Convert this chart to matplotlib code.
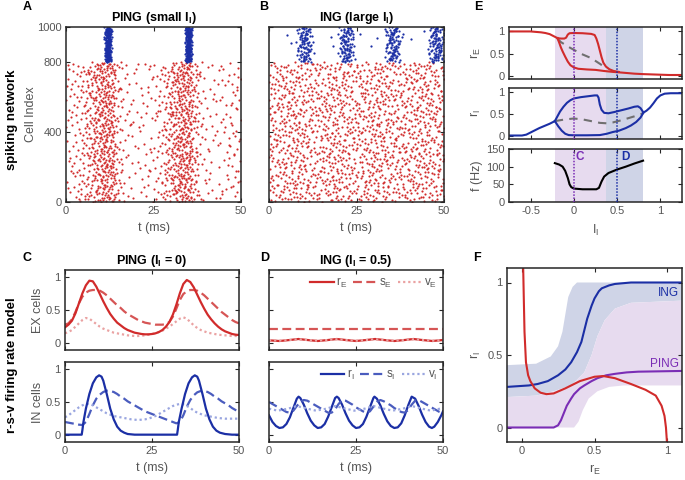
import numpy as np
import matplotlib
matplotlib.use('Agg')
import matplotlib.pyplot as plt

plt.rcParams['font.family'] = ['Liberation Sans', 'DejaVu Sans']
plt.rcParams['mathtext.fontset'] = 'custom'
plt.rcParams['mathtext.rm'] = 'Liberation Sans'
plt.rcParams['mathtext.it'] = 'Liberation Sans:italic'
plt.rcParams['mathtext.bf'] = 'Liberation Sans:bold'
plt.rcParams['axes.unicode_minus'] = False

# ---------------- data ----------------
# raster densities (spikes per 2-ms bin)
A_E_counts = [25, 28, 40, 65, 100, 130, 115, 40, 20, 15, 14, 15, 18, 30, 55, 95, 125, 125, 55, 22, 17, 15, 17, 22, 26]
B_E_counts = [50, 52, 55, 62, 58, 52, 50, 52, 58, 62, 56, 52, 50, 52, 58, 64, 58, 52, 50, 52, 56, 62, 60, 54, 52]
A_I_centers = [12.0, 35.0]
A_I_spread = 1.7
A_I_per_burst = 200
B_I_centers = [10.2, 22.1, 35.4, 47.8]
B_I_spread = 3.8
B_I_per_burst = 100
B_I_extra_t = [6.4, 5.2, 18.3, 17.6, 29.2, 30.8, 38.3, 40.5, 44.2, 26.0]
B_I_extra_idx = [910, 955, 891, 945, 891, 935, 958, 930, 975, 960]

# panel C (PING, I_I = 0)
tC = list(range(0, 51))
C_rE = [0.24, 0.28, 0.34, 0.45, 0.6, 0.75, 0.87, 0.94, 0.93, 0.85, 0.74, 0.63, 0.53, 0.44, 0.37, 0.31,
        0.27, 0.23, 0.2, 0.18, 0.16, 0.15, 0.14, 0.135, 0.135, 0.14, 0.15, 0.17, 0.2, 0.25, 0.32, 0.43,
        0.58, 0.75, 0.89, 0.95, 0.92, 0.84, 0.73, 0.62, 0.52, 0.43, 0.36, 0.3, 0.25, 0.21, 0.18, 0.16,
        0.14, 0.13, 0.125]
C_sE = [0.28, 0.3, 0.36, 0.47, 0.6, 0.7, 0.76, 0.79, 0.8, 0.8, 0.79, 0.76, 0.72, 0.67, 0.62, 0.57,
        0.53, 0.48, 0.44, 0.41, 0.38, 0.35, 0.33, 0.31, 0.3, 0.29, 0.28, 0.28, 0.28, 0.29, 0.32, 0.4,
        0.52, 0.65, 0.74, 0.78, 0.8, 0.8, 0.79, 0.76, 0.72, 0.67, 0.62, 0.57, 0.52, 0.47, 0.43, 0.39,
        0.35, 0.32, 0.3]
C_vE = [0.15, 0.17, 0.2, 0.25, 0.3, 0.35, 0.38, 0.37, 0.33, 0.29, 0.25, 0.22, 0.2, 0.18, 0.16, 0.15,
        0.14, 0.13, 0.12, 0.115, 0.11, 0.11, 0.115, 0.12, 0.13, 0.14, 0.15, 0.17, 0.19, 0.22, 0.25, 0.29,
        0.33, 0.37, 0.39, 0.37, 0.32, 0.27, 0.23, 0.2, 0.18, 0.16, 0.15, 0.14, 0.13, 0.125, 0.12, 0.115,
        0.11, 0.11, 0.11]
tC_rI = [0, 4.8, 5.0, 5.3, 6, 7, 8, 9, 9.8, 10.5, 11, 12, 13, 14, 15, 16, 17, 18, 20, 22,
         32.2, 32.4, 32.7, 33.5, 34.5, 35.5, 36.5, 37.3, 38, 38.5, 39.5, 40.5, 41.5, 42.5, 43.5, 44.5, 46, 48, 50]
C_rI = [0.01, 0.01, 0.08, 0.2, 0.4, 0.62, 0.78, 0.87, 0.9, 0.88, 0.82, 0.62, 0.4, 0.24, 0.13, 0.07, 0.04, 0.02, 0.01, 0.01,
        0.01, 0.08, 0.2, 0.4, 0.62, 0.78, 0.87, 0.9, 0.88, 0.82, 0.62, 0.4, 0.24, 0.13, 0.07, 0.04, 0.02, 0.01, 0.01]
C_sI = [0.2, 0.19, 0.18, 0.17, 0.16, 0.155, 0.2, 0.32, 0.45, 0.55, 0.61, 0.65, 0.67, 0.665, 0.65, 0.62,
        0.58, 0.55, 0.51, 0.48, 0.45, 0.42, 0.39, 0.36, 0.34, 0.32, 0.3, 0.28, 0.26, 0.24, 0.22, 0.2,
        0.18, 0.2, 0.3, 0.43, 0.53, 0.6, 0.645, 0.665, 0.665, 0.65, 0.62, 0.58, 0.55, 0.51, 0.48, 0.45,
        0.41, 0.38, 0.35]
C_vI = [0.27, 0.3, 0.34, 0.38, 0.42, 0.45, 0.47, 0.47, 0.45, 0.42, 0.39, 0.36, 0.33, 0.31, 0.29, 0.28,
        0.27, 0.26, 0.25, 0.24, 0.235, 0.23, 0.235, 0.24, 0.25, 0.27, 0.29, 0.32, 0.35, 0.38, 0.41, 0.44,
        0.46, 0.47, 0.465, 0.44, 0.41, 0.37, 0.34, 0.32, 0.3, 0.29, 0.28, 0.27, 0.26, 0.255, 0.25, 0.25,
        0.25, 0.25, 0.25]

# panel D (ING, I_I = 0.5)
tD_E = [0, 3, 6, 8.5, 11, 14, 17, 19.5, 22, 25, 28, 30.5, 33, 36, 39, 41.5, 44, 47, 50]
D_rE = [0.045, 0.035, 0.05, 0.065, 0.05, 0.035, 0.05, 0.065, 0.05, 0.035, 0.05, 0.065, 0.05, 0.035, 0.05, 0.065, 0.05, 0.035, 0.05]
D_vE = [0.05, 0.04, 0.05, 0.06, 0.05, 0.04, 0.05, 0.06, 0.05, 0.04, 0.05, 0.06, 0.05, 0.04, 0.05, 0.06, 0.05, 0.04, 0.05]
tD_sE = [0, 50]
D_sE = [0.215, 0.215]
tD_rI = [0, 1, 2, 3, 4, 5, 6, 7, 8, 8.5, 9, 10, 11, 12, 13, 14, 15, 16, 17, 18, 19, 19.5, 20, 21, 22, 23, 24,
         25, 26, 27, 28, 29, 30, 30.3, 31, 32, 33, 34, 35, 36, 37, 38, 39, 40, 41, 42, 43, 44, 45, 46, 46.8,
         47.5, 48.5, 49.5, 50]
D_rI = [0.3, 0.2, 0.14, 0.11, 0.12, 0.17, 0.27, 0.41, 0.55, 0.58, 0.56, 0.46, 0.33, 0.22, 0.15, 0.11, 0.12,
        0.17, 0.28, 0.42, 0.56, 0.58, 0.56, 0.46, 0.33, 0.22, 0.15, 0.11, 0.12, 0.17, 0.28, 0.42, 0.56, 0.58,
        0.55, 0.45, 0.32, 0.21, 0.14, 0.11, 0.12, 0.18, 0.3, 0.45, 0.58, 0.55, 0.44, 0.31, 0.2, 0.13, 0.11,
        0.13, 0.2, 0.3, 0.36]
tD_sI = list(range(0, 51))
D_sI = [0.5, 0.47, 0.44, 0.41, 0.38, 0.35, 0.34, 0.37, 0.44, 0.5, 0.53, 0.52, 0.49, 0.46, 0.43, 0.4,
        0.37, 0.34, 0.34, 0.39, 0.47, 0.53, 0.52, 0.49, 0.46, 0.42, 0.39, 0.36, 0.34, 0.36, 0.43, 0.5,
        0.53, 0.51, 0.48, 0.45, 0.41, 0.38, 0.35, 0.34, 0.38, 0.46, 0.52, 0.53, 0.5, 0.47, 0.44, 0.41,
        0.38, 0.35, 0.33]
tD_vI = [0, 2.5, 5.5, 8, 11, 13.5, 16.5, 19, 22, 24.5, 27.5, 30, 33, 35.5, 38.5, 41, 44, 46.5, 50]
D_vI = [0.4, 0.37, 0.4, 0.44, 0.4, 0.37, 0.4, 0.44, 0.4, 0.37, 0.4, 0.44, 0.4, 0.37, 0.4, 0.44, 0.4, 0.37, 0.41]

# panel E (bifurcation in I_I)
E_rE_main_I = [-0.75, -0.5, -0.44, -0.38, -0.33, -0.28, -0.24, -0.21, -0.19]
E_rE_main_v = [1.0, 1.0, 0.99, 0.98, 0.965, 0.94, 0.9, 0.87, 0.85]
E_rE_up_I = [-0.19, -0.15, -0.11, -0.09, -0.07, -0.05, 0.0, 0.1, 0.2, 0.24, 0.26, 0.28, 0.3, 0.32, 0.34, 0.37, 0.41, 0.46, 0.52]
E_rE_up_v = [0.85, 0.84, 0.84, 0.86, 0.93, 0.96, 0.965, 0.96, 0.945, 0.92, 0.84, 0.72, 0.57, 0.42, 0.3, 0.21, 0.15, 0.11, 0.09]
E_rE_lo_I = [-0.19, -0.17, -0.15, -0.13, -0.1, -0.07, -0.04, 0.0, 0.05, 0.15, 0.25, 0.35, 0.45, 0.55, 0.7, 0.8, 0.95, 1.1, 1.25]
E_rE_lo_v = [0.85, 0.75, 0.64, 0.55, 0.43, 0.32, 0.24, 0.19, 0.16, 0.145, 0.135, 0.11, 0.09, 0.075, 0.05, 0.04, 0.03, 0.02, 0.02]
E_rE_uns_I = [-0.19, -0.15, -0.05, 0.08, 0.2, 0.31, 0.37]
E_rE_uns_v = [0.84, 0.76, 0.64, 0.5, 0.4, 0.26, 0.17]

E_rI_left_I = [-0.75, -0.6, -0.55, -0.5, -0.45, -0.4, -0.34, -0.28, -0.22]
E_rI_left_v = [0.01, 0.01, 0.03, 0.08, 0.13, 0.18, 0.23, 0.28, 0.34]
E_rI_up_I = [-0.22, -0.19, -0.16, -0.12, -0.08, -0.04, 0.0, 0.08, 0.16, 0.24, 0.27, 0.285, 0.3, 0.32, 0.35,
             0.4, 0.47, 0.55, 0.63, 0.7, 0.74, 0.77, 0.8]
E_rI_up_v = [0.34, 0.45, 0.56, 0.67, 0.76, 0.82, 0.86, 0.89, 0.91, 0.93, 0.93, 0.88, 0.72, 0.6, 0.53,
             0.52, 0.55, 0.59, 0.63, 0.67, 0.68, 0.64, 0.55]
E_rI_lo_I = [-0.22, -0.18, -0.14, -0.1, -0.06, 0.0, 0.15, 0.3, 0.38, 0.45, 0.52, 0.6, 0.66, 0.72, 0.77, 0.8]
E_rI_lo_v = [0.34, 0.22, 0.12, 0.05, 0.02, 0.015, 0.015, 0.02, 0.05, 0.09, 0.12, 0.18, 0.24, 0.32, 0.42, 0.52]
E_rI_right_I = [0.8, 0.84, 0.88, 0.92, 0.96, 1.0, 1.05, 1.12, 1.25]
E_rI_right_v = [0.53, 0.58, 0.65, 0.75, 0.86, 0.93, 0.97, 0.98, 0.98]
E_rI_uns_I = [-0.22, -0.1, 0.0, 0.1, 0.2, 0.3, 0.38, 0.45, 0.55, 0.65, 0.75, 0.8]
E_rI_uns_v = [0.34, 0.38, 0.4, 0.38, 0.34, 0.3, 0.29, 0.31, 0.36, 0.42, 0.48, 0.52]

E_f_I = [-0.22, -0.17, -0.13, -0.1, -0.07, -0.05, -0.03, 0.0, 0.1, 0.2, 0.26, 0.29, 0.32, 0.35, 0.4, 0.5, 0.6, 0.7, 0.8]
E_f_Hz = [110, 106, 100, 88, 68, 50, 42, 38, 36, 36, 36, 40, 58, 72, 82, 92, 100, 109, 117]
E_ping_range = [-0.22, 0.37]
E_ing_range = [0.37, 0.80]
E_markers = [0.0, 0.5]

# panel F (phase plane)
F_null_rE = [0.01, 0.015, 0.02, 0.03, 0.045, 0.06, 0.09, 0.13, 0.17, 0.22, 0.3, 0.4, 0.5, 0.56, 0.64, 0.75, 0.85, 0.92, 0.96, 0.98, 0.99, 1.0]
F_null_rI = [1.15, 0.9, 0.66, 0.45, 0.36, 0.32, 0.27, 0.24, 0.23, 0.235, 0.27, 0.32, 0.35, 0.355, 0.34, 0.3, 0.26, 0.22, 0.15, 0.08, 0.0, -0.15]
F_ing_rE = [-0.1, 0.05, 0.11, 0.18, 0.25, 0.3, 0.34, 0.38, 0.41, 0.43, 0.45, 0.48, 0.5, 0.53, 0.55, 0.6, 0.64, 0.75, 1.1]
F_ing_rI = [0.28, 0.29, 0.3, 0.32, 0.36, 0.4, 0.45, 0.52, 0.59, 0.67, 0.75, 0.84, 0.89, 0.94, 0.96, 0.98, 0.99, 1.0, 1.0]
F_ping_rE = [-0.1, 0.22, 0.25, 0.27, 0.29, 0.31, 0.34, 0.36, 0.4, 0.43, 0.48, 0.52, 0.58, 0.64, 0.72, 0.8, 1.1]
F_ping_rI = [0.0, 0.0, 0.015, 0.05, 0.1, 0.15, 0.2, 0.23, 0.27, 0.29, 0.32, 0.34, 0.36, 0.37, 0.38, 0.385, 0.39]
F_band_top_rE = [-0.1, 0.1, 0.2, 0.25, 0.28, 0.3, 0.32, 0.35, 0.38, 1.1]
F_band_top_rI = [0.43, 0.44, 0.49, 0.56, 0.66, 0.78, 0.9, 0.97, 1.0, 1.0]
F_band_mid_rE = [-0.1, 0.1, 0.22, 0.34, 0.43, 0.48, 0.52, 0.57, 0.64, 0.75, 1.1]
F_band_mid_rI = [0.21, 0.22, 0.25, 0.29, 0.38, 0.5, 0.63, 0.74, 0.82, 0.86, 0.875]
F_band_bot_rE = [-0.1, 0.36, 0.39, 0.42, 0.46, 0.52, 0.6, 0.7, 1.1]
F_band_bot_rI = [0.0, 0.0, 0.04, 0.12, 0.2, 0.25, 0.28, 0.29, 0.29]

# ---------------- style ----------------
RED = '#D12B2B'
RED_S = '#D65555'
RED_V = '#EAA2A2'
BLUE = '#1B2FA5'
BLUE_S = '#4A5CBE'
BLUE_V = '#9AA6E0'
PURPLE = '#7A2DB5'
GRAYDASH = '#707070'
TXT = '#555555'
SHADE_P = '#E7DBEF'
SHADE_B = '#CFD4E7'

W, H = 685, 480
fig = plt.figure(figsize=(W / 100, H / 100), dpi=100)


def add_ax(x0, y0, x1, y1):
    return fig.add_axes([x0 / W, 1 - y1 / H, (x1 - x0) / W, (y1 - y0) / H])


def style(ax):
    for s in ax.spines.values():
        s.set_linewidth(1.1)
        s.set_color('#262626')
    ax.tick_params(direction='in', length=3, width=0.8, top=True, right=True,
                   labelsize=8, labelcolor=TXT, color='#262626', pad=3)


def halton(n, base, skip):
    i = np.arange(skip + 1, skip + n + 1)
    res = np.zeros(n)
    f = 1.0
    while np.any(i > 0):
        f /= base
        res += f * (i % base)
        i = i // base
    return res


def spread_raster(counts, t0, t1, ncell, skip):
    # places the read-off number of spikes per time bin evenly (Halton layout)
    nb = len(counts)
    dmax = max(counts)
    N = nb * dmax
    u = halton(N, 2, skip)
    v = halton(N, 3, skip)
    w = halton(N, 5, skip)
    b = np.minimum((u * nb).astype(int), nb - 1)
    keep = w < np.asarray(counts, float)[b] / dmax
    return (t0 + (t1 - t0) * u)[keep], (ncell * v)[keep]


def spread_burst(center, width, n, skip):
    u = halton(n, 2, skip)
    w = halton(n, 5, skip)
    v = halton(n, 3, skip)
    return center + width * 0.5 * ((u - 0.5) + (w - 0.5)) * 1.4, 800 + 200 * v


def txt(x, y, s, **kw):
    fig.text(x / W, 1 - y / H, s, **kw)


# ---------------- A ----------------
axA = add_ax(66, 27, 241, 202)
t, idx = spread_raster(A_E_counts, 0, 50, 800, 17)
axA.scatter(t, idx, s=2.4, c=RED, linewidths=0)
for k, c in enumerate(A_I_centers):
    tt, ii = spread_burst(c, A_I_spread, A_I_per_burst, 40 + 300 * k)
    axA.scatter(tt, ii, s=2.6, c=BLUE, linewidths=0)
axA.set_xlim(0, 50)
axA.set_ylim(0, 1000)
axA.set_xticks([0, 25, 50])
axA.set_yticks([0, 400, 800, 1000])
style(axA)
axA.set_ylabel('Cell Index', color=TXT, fontsize=9)
axA.yaxis.set_label_coords(-0.165, 0.5)
axA.set_xlabel('t (ms)', color=TXT, fontsize=9)
axA.xaxis.set_label_coords(0.5, -0.115)
axA.set_title(r'PING (small I$_\mathbf{I}$)', fontsize=9, fontweight='bold', pad=4)

# ---------------- B ----------------
axB = add_ax(269, 27, 444, 202)
t, idx = spread_raster(B_E_counts, 0, 50, 800, 911)
axB.scatter(t, idx, s=2.4, c=RED, linewidths=0)
for k, c in enumerate(B_I_centers):
    tt, ii = spread_burst(c, B_I_spread, B_I_per_burst, 1500 + 170 * k)
    axB.scatter(tt, ii, s=2.6, c=BLUE, linewidths=0)
axB.scatter(B_I_extra_t, B_I_extra_idx, s=2.6, c=BLUE, linewidths=0)
axB.set_xlim(0, 50)
axB.set_ylim(0, 1000)
axB.set_xticks([0, 25, 50])
axB.set_yticks([0, 400, 800, 1000])
axB.set_yticklabels([])
style(axB)
axB.set_xlabel('t (ms)', color=TXT, fontsize=9)
axB.xaxis.set_label_coords(0.5, -0.115)
axB.set_title(r'ING (large I$_\mathbf{I}$)', fontsize=9, fontweight='bold', pad=4)

# ---------------- C ----------------
axC1 = add_ax(65, 270, 239, 350)
axC1.plot(tC, C_sE, color=RED_S, lw=1.6, ls=(0, (4, 2)))
axC1.plot(tC, C_vE, color=RED_V, lw=1.6, ls=(0, (1, 1.3)))
axC1.plot(tC, C_rE, color=RED, lw=1.6)
axC2 = add_ax(65, 362, 239, 442)
axC2.plot(tC, C_sI, color=BLUE_S, lw=1.6, ls=(0, (4, 2)))
axC2.plot(tC, C_vI, color=BLUE_V, lw=1.6, ls=(0, (1, 1.3)))
axC2.plot(tC_rI, C_rI, color=BLUE, lw=1.6)
for ax in (axC1, axC2):
    ax.set_xlim(0, 50)
    ax.set_ylim(-0.1, 1.1)
    ax.set_xticks([0, 25, 50])
    ax.set_yticks([0, 0.5, 1])
    ax.set_yticklabels(['0', '0.5', '1'])
    style(ax)
axC1.set_xticklabels([])
axC1.set_ylabel('EX cells', color=TXT, fontsize=9)
axC1.yaxis.set_label_coords(-0.118, 0.5)
axC2.set_ylabel('IN cells', color=TXT, fontsize=9)
axC2.yaxis.set_label_coords(-0.118, 0.5)
axC2.set_xlabel('t (ms)', color=TXT, fontsize=9)
axC2.xaxis.set_label_coords(0.5, -0.25)
axC1.set_title(r'PING (I$_\mathbf{I}$ = 0)', fontsize=9, fontweight='bold', pad=4)

# ---------------- D ----------------
axD1 = add_ax(269, 270, 443, 350)
axD1.plot(tD_E, D_rE, color=RED, lw=1.6, label=r'r$_\mathregular{E}$')
axD1.plot(tD_sE, D_sE, color=RED_S, lw=1.6, ls=(0, (4, 2)), label=r's$_\mathregular{E}$')
axD1.plot(tD_E, D_vE, color=RED_V, lw=1.6, ls=(0, (1, 1.3)), label=r'v$_\mathregular{E}$')
axD2 = add_ax(269, 362, 443, 442)
axD2.plot(tD_rI, D_rI, color=BLUE, lw=1.6, label=r'r$_\mathregular{I}$')
axD2.plot(tD_sI, D_sI, color=BLUE_S, lw=1.6, ls=(0, (4, 2)), label=r's$_\mathregular{I}$')
axD2.plot(tD_vI, D_vI, color=BLUE_V, lw=1.6, ls=(0, (1, 1.3)), label=r'v$_\mathregular{I}$')
for ax in (axD1, axD2):
    ax.set_xlim(0, 50)
    ax.set_ylim(-0.1, 1.1)
    ax.set_xticks([0, 25, 50])
    ax.set_yticks([0, 0.5, 1])
    ax.set_yticklabels([])
    style(ax)
    ax.legend(loc='upper right', ncol=3, frameon=False, fontsize=8.5, handlelength=2.0,
              handletextpad=0.2, columnspacing=0.5, borderaxespad=0.1, labelcolor=TXT)
axD1.set_xticklabels([])
axD2.set_xlabel('t (ms)', color=TXT, fontsize=9)
axD2.xaxis.set_label_coords(0.5, -0.25)
axD1.set_title(r'ING (I$_\mathbf{I}$ = 0.5)', fontsize=9, fontweight='bold', pad=4)

# ---------------- E ----------------
axE1 = add_ax(509, 27, 682, 79)
axE2 = add_ax(509, 88, 682, 139)
axE3 = add_ax(509, 149, 682, 202)
for ax in (axE1, axE2, axE3):
    ax.axvspan(E_ping_range[0], E_ping_range[1], color=SHADE_P, lw=0, zorder=0)
    ax.axvspan(E_ing_range[0], E_ing_range[1], color=SHADE_B, lw=0, zorder=0)
    ax.axvline(E_markers[0], color=PURPLE, lw=1.1, ls=(0, (1, 1)), zorder=3)
    ax.axvline(E_markers[1], color=BLUE, lw=1.1, ls=(0, (1, 1)), zorder=3)
    ax.set_xlim(-0.75, 1.25)
    ax.set_xticks([-0.5, 0, 0.5, 1])
    style(ax)
axE1.plot(E_rE_uns_I, E_rE_uns_v, color=GRAYDASH, lw=1.5, ls=(0, (4, 3)))
for xs, ys in ((E_rE_main_I, E_rE_main_v), (E_rE_up_I, E_rE_up_v), (E_rE_lo_I, E_rE_lo_v)):
    axE1.plot(xs, ys, color=RED, lw=1.5)
axE2.plot(E_rI_uns_I, E_rI_uns_v, color=GRAYDASH, lw=1.5, ls=(0, (4, 3)))
for xs, ys in ((E_rI_left_I, E_rI_left_v), (E_rI_up_I, E_rI_up_v), (E_rI_lo_I, E_rI_lo_v),
               (E_rI_right_I, E_rI_right_v)):
    axE2.plot(xs, ys, color=BLUE, lw=1.5)
axE3.plot(E_f_I, E_f_Hz, color='black', lw=1.5)
for ax in (axE1, axE2):
    ax.set_ylim(-0.07, 1.1)
    ax.set_yticks([0, 0.5, 1])
    ax.set_yticklabels(['0', '0.5', '1'])
    ax.set_xticklabels([])
axE3.set_ylim(0, 150)
axE3.set_yticks([0, 50, 100, 150])
axE3.set_xticklabels(['-0.5', '0', '0.5', '1'])
axE3.text(0.07, 128, 'C', color=PURPLE, fontsize=8.5, fontweight='bold', ha='center', va='center')
axE3.text(0.6, 128, 'D', color=BLUE, fontsize=8.5, fontweight='bold', ha='center', va='center')
axE1.set_ylabel(r'r$_\mathregular{E}$', color=TXT, fontsize=9)
axE2.set_ylabel(r'r$_\mathregular{I}$', color=TXT, fontsize=9)
axE3.set_ylabel('f (Hz)', color=TXT, fontsize=9)
for ax in (axE1, axE2, axE3):
    ax.yaxis.set_label_coords(-0.15, 0.5)
axE3.set_xlabel(r'I$_\mathregular{I}$', color=TXT, fontsize=9)
axE3.xaxis.set_label_coords(0.5, -0.4)

# ---------------- F ----------------
axF = add_ax(507, 268, 682, 442)
axF.fill(np.r_[F_band_top_rE, F_band_mid_rE[::-1]], np.r_[F_band_top_rI, F_band_mid_rI[::-1]],
         color=SHADE_B, lw=0, zorder=0)
axF.fill(np.r_[F_band_mid_rE, F_band_bot_rE[::-1]], np.r_[F_band_mid_rI, F_band_bot_rI[::-1]],
         color=SHADE_P, lw=0, zorder=0)
axF.plot(F_ing_rE, F_ing_rI, color=BLUE, lw=1.5)
axF.plot(F_ping_rE, F_ping_rI, color=PURPLE, lw=1.5)
axF.plot(F_null_rE, F_null_rI, color=RED, lw=1.5)
axF.text(1.08, 0.93, 'ING', color=BLUE, fontsize=8.5, ha='right', va='center')
axF.text(1.08, 0.44, 'PING', color=PURPLE, fontsize=8.5, ha='right', va='center')
axF.set_xlim(-0.1, 1.1)
axF.set_ylim(-0.1, 1.1)
axF.set_xticks([0, 0.5, 1])
axF.set_xticklabels(['0', '0.5', '1'])
axF.set_yticks([0, 0.5, 1])
axF.set_yticklabels(['0', '0.5', '1'])
style(axF)
axF.set_ylabel(r'r$_\mathregular{I}$', color=TXT, fontsize=9)
axF.yaxis.set_label_coords(-0.135, 0.5)
axF.set_xlabel(r'r$_\mathregular{E}$', color=TXT, fontsize=9)
axF.xaxis.set_label_coords(0.5, -0.12)

# ---------------- labels ----------------
for s, x, y in (('A', 27, 7), ('B', 264, 7), ('E', 478, 7), ('C', 27, 258), ('D', 265, 258), ('F', 477, 258)):
    txt(x, y, s, fontsize=9, fontweight='bold', ha='center', va='center')
txt(12, 120, 'spiking network', fontsize=9.5, fontweight='bold', rotation=90, ha='center', va='center')
txt(12, 365, 'r-s-v firing rate model', fontsize=9.5, fontweight='bold', rotation=90, ha='center', va='center')

fig.savefig('out.png', dpi=100)
